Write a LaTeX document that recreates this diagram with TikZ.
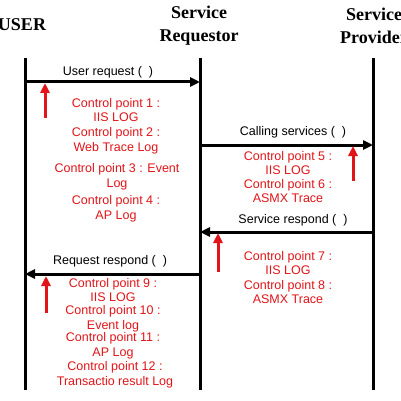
\documentclass[tikz,border=0pt]{standalone}
\usepackage{fontspec}
\setmainfont{Liberation Sans}
\newfontfamily\headfont{Liberation Serif}
\usetikzlibrary{arrows.meta}
\definecolor{cpred}{RGB}{225,20,25}
\tikzset{>={Triangle[length=10pt,width=9pt]}}
\tikzset{life/.style={line width=3pt}}
\tikzset{msg/.style={line width=3pt,->}}
\tikzset{cpoint/.style={draw=cpred,line width=3pt,->}}
\tikzset{head/.style={font=\headfont\bfseries\fontsize{18}{23}\selectfont, align=center}}
\tikzset{msglabel/.style={font=\fontsize{12.5}{14}\selectfont}}
\tikzset{cptext/.style={text=cpred, align=center, font=\fontsize{12.5}{14.5}\selectfont}}

\begin{document}
\begin{tikzpicture}[x=1pt,y=-1pt]
\useasboundingbox (0,0) rectangle (401,401);

% actors
\node[head] (user) at (22,25) {USER};
\node[head] (req) at (199,26) {Service\\Requestor};
\node[head] (prov) at (374,26) {Service\\Provider};

% lifelines
\coordinate (usertop) at (25,58);
\coordinate (userbot) at (25,390);
\coordinate (reqtop) at (200,58);
\coordinate (reqbot) at (200,390);
\coordinate (provtop) at (373,58);
\coordinate (provbot) at (373,390);
\draw[life] (usertop) -- (userbot);
\draw[life] (reqtop) -- (reqbot);
\draw[life] (provtop) -- (provbot);

% messages
\coordinate (m1a) at (25,82);  \coordinate (m1b) at (200,82);
\coordinate (m2a) at (200,145); \coordinate (m2b) at (373,145);
\coordinate (m3a) at (373,232); \coordinate (m3b) at (200,232);
\coordinate (m4a) at (200,274); \coordinate (m4b) at (25,274);
\draw[msg] (m1a) -- (m1b);
\draw[msg] (m2a) -- (m2b);
\draw[msg] (m3a) -- (m3b);
\draw[msg] (m4a) -- (m4b);

\node[msglabel] (l1) at (108,72) {User request (\ \ )};
\node[msglabel] (l2) at (293,132) {Calling services (\ \ )};
\node[msglabel] (l3) at (293,220) {Service respond (\ \ )};
\node[msglabel] (l4) at (110,261) {Request respond (\ \ )};

% control point arrows
\coordinate (a1s) at (45,118);  \coordinate (a1e) at (45,83);
\coordinate (a2s) at (353,181); \coordinate (a2e) at (353,146);
\coordinate (a3s) at (218,272); \coordinate (a3e) at (218,233);
\coordinate (a4s) at (46,313);  \coordinate (a4e) at (46,276);
\draw[cpoint] (a1s) -- (a1e);
\draw[cpoint] (a2s) -- (a2e);
\draw[cpoint] (a3s) -- (a3e);
\draw[cpoint] (a4s) -- (a4e);

% control points
\node[cptext] (cp1) at (116,110) {Control point 1 :\\IIS LOG};
\node[cptext] (cp2) at (116,141) {Control point 2 :\\Web Trace Log};
\node[cptext] (cp3) at (117,177) {Control point 3 : Event\\Log};
\node[cptext] (cp4) at (116,209) {Control point 4 :\\AP Log};
\node[cptext] (cp5) at (288,163) {Control point 5 :\\IIS LOG};
\node[cptext] (cp6) at (288,191) {Control point 6 :\\ASMX Trace};
\node[cptext] (cp7) at (288,263) {Control point 7 :\\IIS LOG};
\node[cptext] (cp8) at (288,292) {Control point 8 :\\ASMX Trace};
\node[cptext] (cp9) at (113,290) {Control point 9 :\\IIS LOG};
\node[cptext] (cp10) at (113,319) {Control point 10 :\\Event log};
\node[cptext] (cp11) at (113,346) {Control point 11 :\\AP Log};
\node[cptext] (cp12) at (115,375) {Control point 12 :\\Transactio result Log};
\end{tikzpicture}
\end{document}
